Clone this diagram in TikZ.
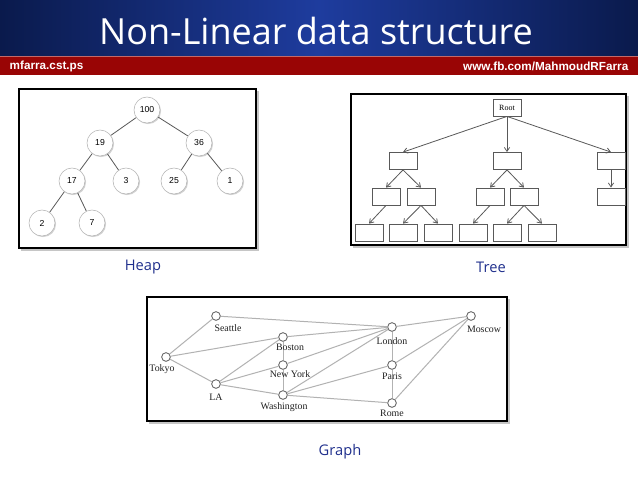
\documentclass[tikz,border=0pt]{standalone}
\usepackage{fontspec}
\setmainfont{Liberation Serif}
\setsansfont{Liberation Sans}
\newfontfamily\headfont{Open Sans}
\usetikzlibrary{shadows,arrows.meta}

\definecolor{navyedge}{HTML}{0A1A4C}
\definecolor{navymid}{HTML}{1E3C9E}
\definecolor{barred}{HTML}{990505}
\definecolor{capblue}{HTML}{1F2F8C}

\tikzset{
  heapnode/.style={circle,draw=gray!60,fill=white,minimum size=19.5pt,inner sep=0pt,font=\sffamily\fontsize{6.5}{7}\selectfont,drop shadow={shadow xshift=0.8pt,shadow yshift=-0.8pt,opacity=0.35}},
  heapedge/.style={draw=gray!70!black,line width=0.6pt},
  treebox/.style={rectangle,draw=gray!70!black,fill=white,minimum width=21pt,minimum height=12.75pt,inner sep=0pt,line width=0.6pt},
  treeedge/.style={draw=gray!70!black,line width=0.6pt,-{Straight Barb[length=3pt,width=4pt]}},
  city/.style={circle,draw=gray!70!black,fill=white,minimum size=6.5pt,inner sep=0pt,line width=0.6pt},
  citylabel/.style={font=\fontsize{7.4}{8}\selectfont,text=gray!25!black,inner sep=0pt},
  road/.style={draw=gray!60,line width=0.75pt},
  caption/.style={font=\headfont\fontsize{11}{12}\selectfont,text=capblue},
  barlabel/.style={font=\sffamily\bfseries\fontsize{8.8}{10}\selectfont,text=white}
}

\begin{document}
\begin{tikzpicture}[x=0.75pt,y=-0.75pt]
            \useasboundingbox (0,0) rectangle (638,479);
            % header band
            \shade[left color=navyedge,right color=navyedge,middle color=navymid] (0,0) rectangle (638,56);
            \fill[barred!60!white] (0,55.5) rectangle (638,57); \fill[barred] (0,57) rectangle (638,75);
            \node[font=\headfont\fontsize{27}{30}\selectfont,text=white] (title) at (316,31) {Non-Linear data structure};
            \node[barlabel,anchor=west] (site) at (5,66) {mfarra.cst.ps};
            \node[barlabel,anchor=east] (fb) at (633,66) {www.fb.com/MahmoudRFarra};

            % heap
            \fill[gray!45] (21,91) rectangle (259,251); \draw[line width=2.2pt,fill=white] (19,89) rectangle (256,248);
            \node[heapnode] (h100) at (147,110) {100}; \node[heapnode] (h19) at (100,143) {19}; \node[heapnode] (h36) at (199,143) {36};
            \node[heapnode] (h17) at (72,181) {17}; \node[heapnode] (h3) at (126,181) {3}; \node[heapnode] (h25) at (174,181) {25}; \node[heapnode] (h1) at (230,181) {1};
            \node[heapnode] (h2) at (42,223) {2}; \node[heapnode] (h7) at (92,223) {7};
            \draw[heapedge] (h100) -- (h19); \draw[heapedge] (h100) -- (h36); \draw[heapedge] (h19) -- (h17); \draw[heapedge] (h19) -- (h3);
            \draw[heapedge] (h36) -- (h25); \draw[heapedge] (h36) -- (h1); \draw[heapedge] (h17) -- (h2); \draw[heapedge] (h17) -- (h7);
            \node[caption] (heapcap) at (143,267) {Heap};

            % tree
            \fill[gray!45] (353,96) rectangle (629,248); \draw[line width=2.2pt,fill=white] (351,94) rectangle (626,245);
            \node[treebox,font=\fontsize{6}{7}\selectfont] (root) at (507,107.5) {Root};
            \node[treebox] (ta) at (403,161) {}; \node[treebox] (tb) at (507,161) {}; \node[treebox] (tc) at (611,161) {};
            \node[treebox] (taa) at (386,196.5) {}; \node[treebox] (tab) at (421,196.5) {}; \node[treebox] (tba) at (490,196.5) {}; \node[treebox] (tbb) at (524,196.5) {}; \node[treebox] (tca) at (611,196.5) {};
            \node[treebox] (taaa) at (369,232.5) {}; \node[treebox] (taba) at (403,232.5) {}; \node[treebox] (tabb) at (438,232.5) {};
            \node[treebox] (tbaa) at (473,232.5) {}; \node[treebox] (tbba) at (507,232.5) {}; \node[treebox] (tbbb) at (542,232.5) {};
            \draw[treeedge] (root.south) -- (ta.north); \draw[treeedge] (root.south) -- (tb.north); \draw[treeedge] (root.south) -- (tc.north);
            \draw[treeedge] (ta.south) -- (taa.north); \draw[treeedge] (ta.south) -- (tab.north); \draw[treeedge] (tb.south) -- (tba.north); \draw[treeedge] (tb.south) -- (tbb.north); \draw[treeedge] (tc.south) -- (tca.north);
            \draw[treeedge] (taa.south) -- (taaa.north); \draw[treeedge] (tab.south) -- (taba.north); \draw[treeedge] (tab.south) -- (tabb.north);
            \draw[treeedge] (tba.south) -- (tbaa.north); \draw[treeedge] (tbb.south) -- (tbba.north); \draw[treeedge] (tbb.south) -- (tbbb.north);
            \node[caption] (treecap) at (491,267) {Tree};

            % graph
            \fill[gray!45] (149,299) rectangle (510,424); \draw[line width=2.2pt,fill=white] (147,297) rectangle (507,421);
            \node[city] (sea) at (216,316) {}; \node[city] (lon) at (392,327) {}; \node[city] (mos) at (471,316) {};
            \node[city] (bos) at (283,337) {}; \node[city] (tok) at (166,357) {}; \node[city] (ny) at (283,365) {};
            \node[city] (par) at (392,365) {}; \node[city] (la) at (216,384) {}; \node[city] (was) at (283,395) {}; \node[city] (rom) at (392,403) {};
            \draw[road] (sea) -- (lon); \draw[road] (sea) -- (tok); \draw[road] (tok) -- (bos); \draw[road] (tok) -- (la);
            \draw[road] (la) -- (bos); \draw[road] (la) -- (ny); \draw[road] (la) -- (was); \draw[road] (bos) -- (lon); \draw[road] (bos) -- (ny);
            \draw[road] (ny) -- (lon); \draw[road] (ny) -- (was); \draw[road] (was) -- (lon); \draw[road] (was) -- (par); \draw[road] (was) -- (rom);
            \draw[road] (lon) -- (par); \draw[road] (lon) -- (mos); \draw[road] (par) -- (rom); \draw[road] (par) -- (mos); \draw[road] (rom) -- (mos);
            \node[citylabel] (seaL) at (228,328) {Seattle}; \node[citylabel] (lonL) at (392,341) {London}; \node[citylabel] (mosL) at (484,329) {Moscow};
            \node[citylabel] (bosL) at (290,347) {Boston}; \node[citylabel] (tokL) at (162,369) {Tokyo}; \node[citylabel] (nyL) at (290,374) {New York};
            \node[citylabel] (parL) at (392,376) {Paris}; \node[citylabel] (laL) at (216,397) {LA}; \node[citylabel] (wasL) at (284,407) {Washington}; \node[citylabel] (romL) at (392,413) {Rome};
            \node[caption] (graphcap) at (340,452) {Graph};
        \end{tikzpicture}
\end{document}
